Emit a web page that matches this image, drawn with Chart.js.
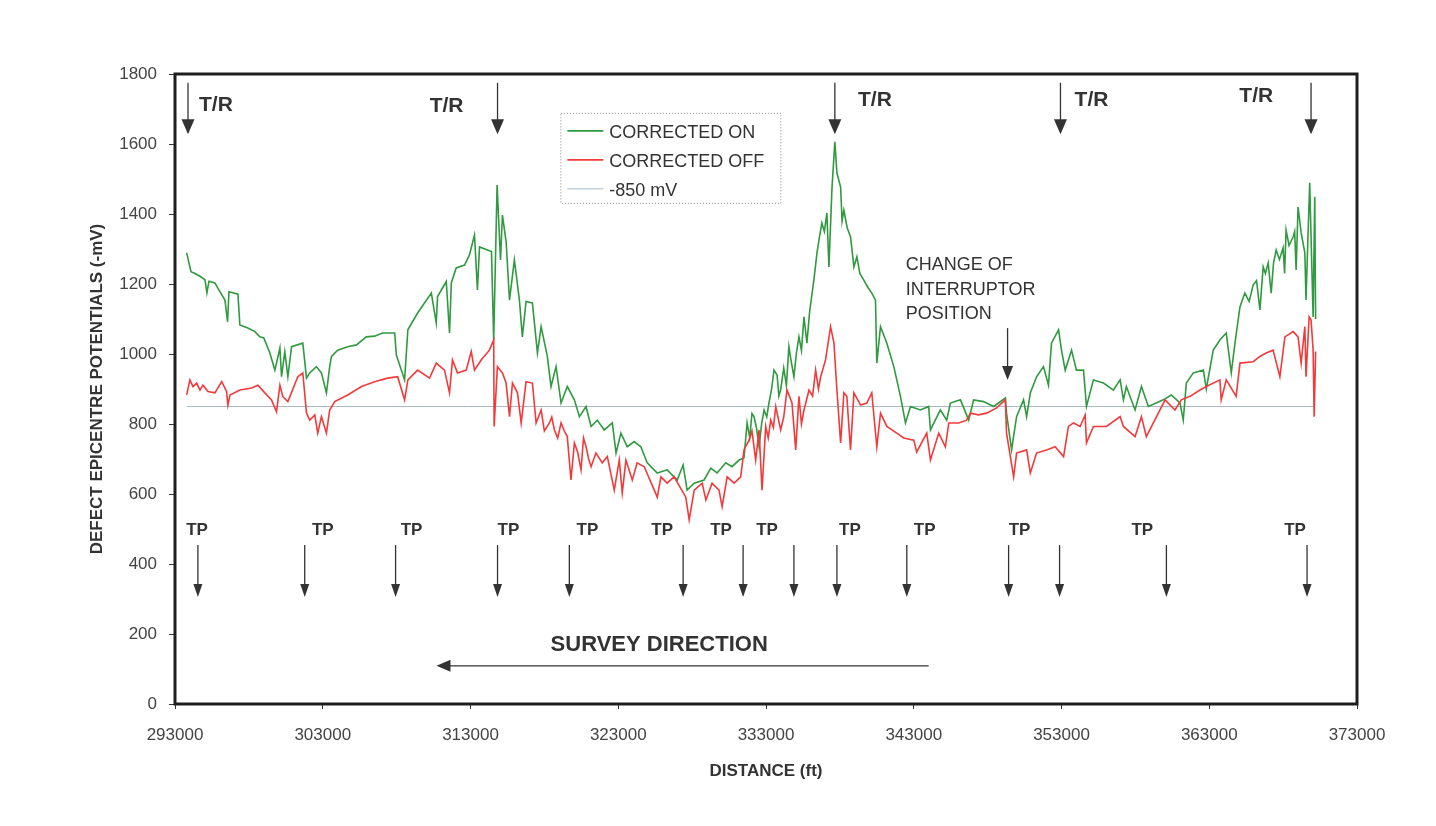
<!DOCTYPE html>
<html>
<head>
<meta charset="utf-8">
<title>Defect epicentre potentials</title>
<script src="https://cdn.jsdelivr.net/npm/chart.js@4.4.1/dist/chart.umd.min.js"></script>
<style>
  html, body { margin: 0; padding: 0; background: #fff; }
  #wrap { position: relative; width: 1436px; height: 826px; }
</style>
</head>
<body>
<div id="wrap"><canvas id="potChart" width="1436" height="826"></canvas></div>
<script>
// CORRECTED ON survey (distance ft, -mV)
var onDist = [293790,294080,294350,294690,295030,295160,295300,295700,296040,296380,296560,296650,297260,297390,297930,298410,298740,299010,299420,299760,300100,300210,300430,300640,300890,301650,301900,302120,302570,302910,303250,303470,303590,304010,304690,305280,305950,306510,307050,307870,307980,308540,308760,309420,310350,310680,310770,311360,311580,311700,312030,312600,312930,313270,313470,313610,314420,314570,314800,315030,315160,315410,315640,315970,316310,316510,316760,317190,317530,317780,318200,318450,318790,319130,319550,320030,320370,320820,321160,321580,322050,322600,322850,323180,323610,324080,324530,324960,325640,326310,326990,327390,327660,328140,328810,329260,329690,330280,330700,331180,331510,331720,331900,332050,332190,332350,332530,332700,332870,333050,333200,333380,333540,333750,333870,333990,334200,334380,334550,334700,334890,335050,335230,335400,335570,335770,335950,336240,336450,336600,336780,336950,337120,337260,337460,337660,337800,338050,338150,338270,338500,338720,338950,339150,339350,339620,339900,340160,340410,340500,340750,341180,341650,342100,342440,342780,343450,344010,344130,344800,345230,345480,346160,346720,347050,347730,348410,349200,349280,349620,349960,350430,350640,350890,351310,351780,352120,352320,352800,353000,353250,353680,354010,354490,354690,355160,355840,356510,356970,357190,357390,357980,358410,358880,359890,360430,361020,361240,361450,361920,362600,362800,363270,363720,364150,364490,364740,365080,365410,365700,365970,366200,366430,366650,366800,366990,367190,367350,367530,367750,368000,368100,368200,368400,368680,368780,368880,369010,369220,369470,369550,369690,369800,369890,370030,370140,370200];
var onMv = [1289,1235,1230,1222,1212,1175,1208,1203,1178,1154,1092,1178,1171,1083,1074,1064,1049,1046,1003,954,1017,935,1007,935,1021,1031,931,946,964,946,889,964,993,1011,1021,1026,1049,1051,1060,1060,997,926,1069,1117,1174,1089,1164,1207,1060,1203,1246,1254,1283,1340,1183,1306,1293,1040,1483,1269,1397,1321,1154,1269,1154,1049,1150,1146,1003,1078,993,907,964,860,907,869,821,850,793,811,783,803,717,774,735,750,735,689,660,669,640,683,611,631,640,674,660,689,678,697,703,803,760,830,821,790,735,800,840,820,860,900,954,940,880,897,960,910,1021,980,935,1000,1049,1010,1106,1031,1120,1211,1289,1330,1374,1350,1403,1249,1469,1606,1517,1477,1380,1411,1360,1335,1249,1278,1230,1211,1190,1174,1154,974,1078,1031,964,879,803,850,840,850,783,840,811,860,869,811,869,864,850,874,831,726,821,869,821,889,935,964,911,1031,1069,1011,954,1011,954,954,850,926,917,897,926,869,907,840,907,850,869,883,860,811,917,946,954,900,1011,1040,1060,946,1031,1135,1174,1150,1197,1210,1126,1249,1230,1260,1174,1260,1297,1270,1303,1230,1354,1310,1335,1350,1240,1420,1346,1289,1154,1346,1489,1335,1106,1449,1100];

// CORRECTED OFF survey
var offDist = [293790,294010,294220,294470,294690,294890,295230,295700,296160,296490,296580,296720,297390,298180,298610,299080,299530,299870,300100,300300,300640,301310,301650,301900,302120,302460,302660,302910,303250,303470,303810,304690,305620,306510,307390,308070,308540,308760,309420,310230,310680,311240,311580,311780,312120,312710,313050,313270,313720,314280,314570,314600,314820,315160,315410,315640,315840,316180,316430,316760,317190,317440,317780,318000,318340,318500,318680,318900,319130,319350,319550,319800,320030,320250,320480,320650,320820,321000,321160,321490,321920,322260,322730,323070,323270,323520,323950,324280,324760,325640,325890,326310,326780,327570,327800,328140,328680,328930,329350,329820,330030,330370,330840,331290,331510,331850,332050,332300,332530,332730,332980,333150,333320,333500,333660,333990,334200,334420,334760,335010,335230,335400,335570,335750,335910,336150,336360,336550,336700,337030,337370,337600,337800,338050,338270,338470,338720,338950,339400,339820,340160,340500,340750,341180,341850,342320,343000,343200,343880,344130,344690,345140,345370,346040,346580,346830,347390,347930,348610,349200,349280,349760,349960,350640,350890,351310,351990,352570,353140,353470,353810,354260,354600,354690,355160,356040,356970,357190,357980,358410,358740,360010,360680,361110,361700,362370,362800,363720,363810,364150,364820,365080,365970,366430,366850,367320,367780,368120,368680,369010,369220,369470,369550,369760,369890,370030,370100,370200];
var offMv = [883,926,907,917,897,911,893,889,921,893,854,883,897,903,911,889,869,835,911,878,864,935,946,831,811,826,774,821,774,840,864,883,907,921,931,935,869,926,954,931,974,954,889,983,946,954,1007,954,983,1011,1040,793,964,946,917,821,917,889,803,921,917,803,840,780,803,820,783,760,803,780,764,640,746,720,669,760,735,700,678,717,689,707,611,697,603,697,640,689,678,591,649,631,649,591,526,611,631,583,631,611,564,649,631,649,726,754,780,697,783,611,793,760,811,790,850,783,820,897,860,726,879,800,840,870,897,880,954,900,935,983,1078,1031,897,746,889,879,726,889,854,860,889,735,831,793,774,760,754,720,774,697,774,735,803,803,811,831,826,831,846,869,774,649,717,726,660,717,726,735,707,793,803,793,826,746,793,793,821,793,764,821,764,869,840,869,879,897,907,926,869,926,879,974,978,993,1003,1011,935,1049,1064,1049,974,1078,935,1106,1097,1011,821,1007];

// -850 mV criterion
var refDist = [293810, 370100];
var refMv = [850, 850];

// annotations (distance ft)
var trDist = [293880, 314830, 337660, 352930, 369890];
var trLabelDist = [295770, 311380, 340370, 355030, 366180];
var trLabelMv = [1710, 1707, 1725, 1725, 1737];
var tpArrowDist = [294550, 301780, 307930, 314830, 319690, 327390, 331450, 334890, 337800, 342530, 349420, 352870, 360100, 369620];
var tpLabelDist = [294490, 303000, 309010, 315570, 320910, 325970, 329960, 333070, 338680, 343740, 350160, 358470, 368810];
var changeDist = 349350;
var changeText = ['CHANGE OF', 'INTERRUPTOR', 'POSITION'];

var FONT = "'Liberation Sans', Arial, sans-serif";

function pairs(xs, ys) {
    var out = [];
    for (var i = 0; i < Math.min(xs.length, ys.length); i++) out.push({x: xs[i], y: ys[i]});
    return out;
}

function downArrow(ctx, x, yTop, yTip, w, h) {
    ctx.beginPath();
    ctx.moveTo(x, yTop);
    ctx.lineTo(x, yTip - h + 1);
    ctx.stroke();
    ctx.beginPath();
    ctx.moveTo(x - w / 2, yTip - h);
    ctx.lineTo(x + w / 2, yTip - h);
    ctx.lineTo(x, yTip);
    ctx.closePath();
    ctx.fill();
}

// arrows, labels, legend box and frame
var overlay = {
    id: 'overlay',
    afterDatasetsDraw: function(chart) {
        var ctx = chart.ctx, xs = chart.scales.x, ys = chart.scales.y;
        ctx.save();
        ctx.strokeStyle = '#333';
        ctx.fillStyle = '#333';
        ctx.lineWidth = 1.3;

        // T/R
        ctx.font = 'bold 21px ' + FONT;
        ctx.textAlign = 'center';
        ctx.textBaseline = 'middle';
        trDist.forEach(function(d) {
            downArrow(ctx, xs.getPixelForValue(d), ys.getPixelForValue(1775), ys.getPixelForValue(1628), 13, 15);
        });
        trLabelDist.forEach(function(d, i) {
            ctx.fillText('T/R', xs.getPixelForValue(d), ys.getPixelForValue(trLabelMv[i]));
        });

        // TP
        ctx.font = 'bold 17px ' + FONT;
        tpArrowDist.forEach(function(d) {
            downArrow(ctx, xs.getPixelForValue(d), ys.getPixelForValue(454), ys.getPixelForValue(306), 9, 13);
        });
        tpLabelDist.forEach(function(d) {
            ctx.fillText('TP', xs.getPixelForValue(d), ys.getPixelForValue(497));
        });

        // change of interruptor position
        ctx.font = '18px ' + FONT;
        ctx.textAlign = 'left';
        changeText.forEach(function(t, i) {
            ctx.fillText(t, xs.getPixelForValue(342460), ys.getPixelForValue(1254 - i * 70));
        });
        downArrow(ctx, xs.getPixelForValue(changeDist), ys.getPixelForValue(1074), ys.getPixelForValue(926), 11, 14);

        // survey direction
        ctx.font = 'bold 22px ' + FONT;
        ctx.textAlign = 'center';
        ctx.fillText('SURVEY DIRECTION', xs.getPixelForValue(325770), ys.getPixelForValue(169));
        var ay = ys.getPixelForValue(109), ax1 = xs.getPixelForValue(344010), ax0 = xs.getPixelForValue(310700);
        ctx.beginPath();
        ctx.moveTo(ax1, ay);
        ctx.lineTo(ax0 + 10, ay);
        ctx.stroke();
        ctx.beginPath();
        ctx.moveTo(ax0, ay);
        ctx.lineTo(ax0 + 14, ay - 6);
        ctx.lineTo(ax0 + 14, ay + 6);
        ctx.closePath();
        ctx.fill();

        // legend box
        var lx = xs.getPixelForValue(319080), ly = ys.getPixelForValue(1689);
        ctx.setLineDash([1, 2]);
        ctx.strokeStyle = '#8a8a8a';
        ctx.lineWidth = 1;
        ctx.strokeRect(lx + 0.5, ly + 0.5, 220, 90);
        ctx.setLineDash([]);
        var items = [['CORRECTED ON', '#2f9a3f', 1.6], ['CORRECTED OFF', '#f23a3a', 1.6], ['-850 mV', '#a9b8c6', 1]];
        ctx.font = '18px ' + FONT;
        ctx.textAlign = 'left';
        items.forEach(function(it, i) {
            var yy = ly + 18 + i * 29;
            ctx.strokeStyle = it[1];
            ctx.lineWidth = it[2];
            ctx.beginPath();
            ctx.moveTo(lx + 7, yy);
            ctx.lineTo(lx + 43, yy);
            ctx.stroke();
            ctx.fillStyle = '#333';
            ctx.fillText(it[0], lx + 49, yy + 2);
        });
        ctx.restore();
    },
    afterDraw: function(chart) {
        var a = chart.chartArea, ctx = chart.ctx;
        ctx.save();
        ctx.strokeStyle = '#1e1e1e';
        ctx.lineWidth = 3;
        ctx.strokeRect(a.left, a.top, a.right - a.left, a.bottom - a.top);
        ctx.restore();
    }
};

var ctx = document.getElementById('potChart');
var potChart = new Chart(ctx, {
    type: 'line',
    data: {
        datasets: [
            {
                label: 'CORRECTED ON',
                data: pairs(onDist, onMv),
                borderColor: '#2f9a3f',
                borderWidth: 1.6,
                pointRadius: 0,
                tension: 0,
                order: 2
            },
            {
                label: 'CORRECTED OFF',
                data: pairs(offDist, offMv),
                borderColor: '#f23a3a',
                borderWidth: 1.6,
                pointRadius: 0,
                tension: 0,
                order: 1
            },
            {
                label: '-850 mV',
                data: pairs(refDist, refMv),
                borderColor: '#a9b8c6',
                borderWidth: 1,
                pointRadius: 0,
                order: 3
            }
        ]
    },
    options: {
        responsive: false,
        animation: false,
        devicePixelRatio: 1,
        layout: { padding: { top: 74, right: 79, bottom: 0, left: 0 } },
        plugins: {
            legend: { display: false },
            tooltip: { enabled: false }
        },
        scales: {
            x: {
                type: 'linear',
                min: 293000,
                max: 373000,
                afterFit: function(scale) { scale.height = 122; },
                ticks: {
                    stepSize: 10000,
                    autoSkip: false,
                    maxRotation: 0,
                    padding: 16,
                    color: '#444',
                    font: { family: FONT, size: 17 },
                    callback: function(v) { return String(v); }
                },
                grid: { drawOnChartArea: false, drawTicks: true, tickLength: 5, color: '#333' },
                border: { display: false },
                title: {
                    display: true,
                    text: 'DISTANCE (ft)',
                    color: '#333',
                    font: { family: FONT, size: 17, weight: 'bold' },
                    padding: { top: 0, bottom: 44 }
                }
            },
            y: {
                min: 0,
                max: 1800,
                afterFit: function(scale) { scale.width = 175; },
                ticks: {
                    stepSize: 200,
                    padding: 12,
                    color: '#444',
                    font: { family: FONT, size: 17 },
                    callback: function(v) { return String(v); }
                },
                grid: { drawOnChartArea: false, drawTicks: true, tickLength: 6, color: '#333' },
                border: { display: false },
                title: {
                    display: true,
                    text: 'DEFECT EPICENTRE POTENTIALS (-mV)',
                    color: '#333',
                    font: { family: FONT, size: 17, weight: 'bold' },
                    padding: { top: 87, bottom: 0 }
                }
            }
        }
    },
    plugins: [overlay]
});
</script>
</body>
</html>
